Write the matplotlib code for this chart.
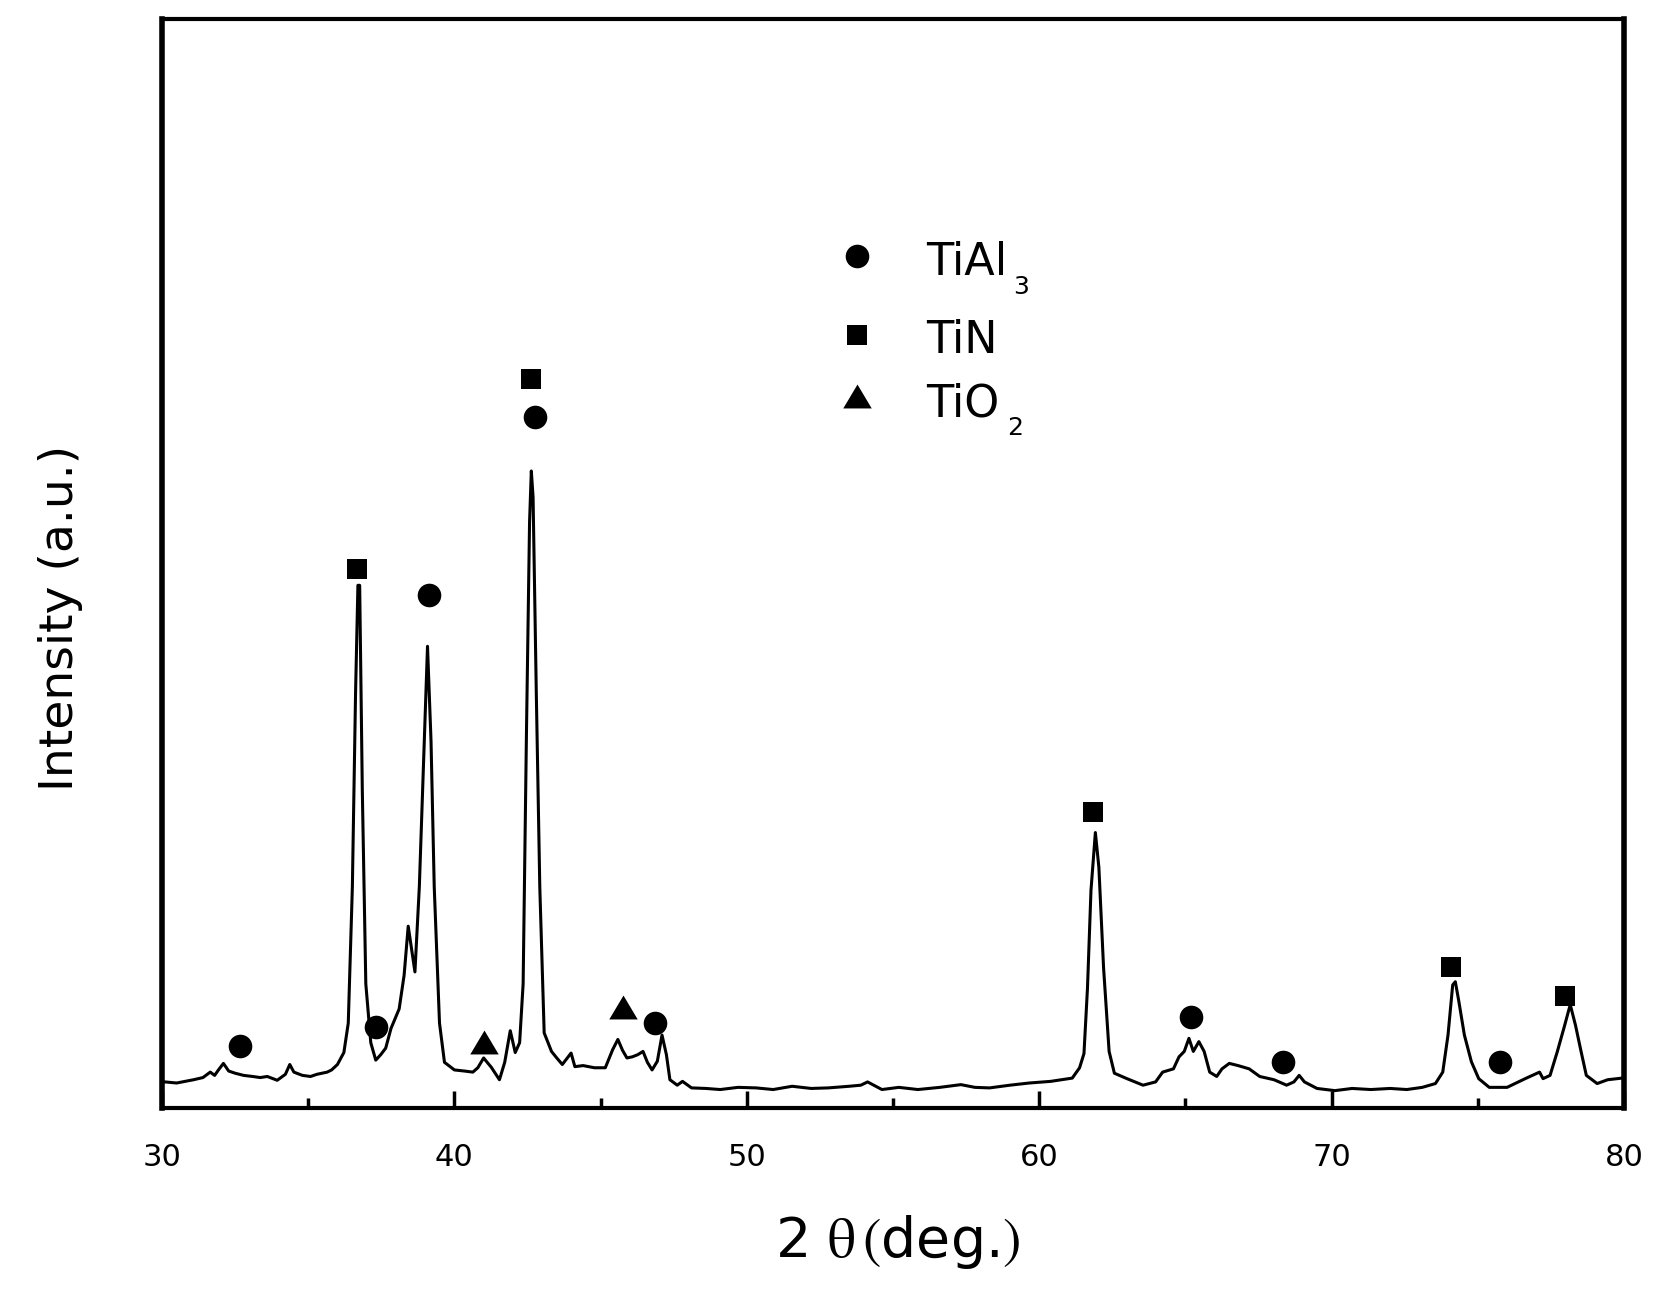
import matplotlib
matplotlib.use("Agg")
import matplotlib.pyplot as plt

plt.rcParams['font.family'] = 'DejaVu Sans'
plt.rcParams['mathtext.fontset'] = 'stix'

# XRD pattern (2-theta in deg, intensity in a.u.)
two_theta = [
    30.0, 30.1, 30.5, 31.08, 31.4, 31.65, 31.8, 31.93, 32.1, 32.28, 32.5, 32.79,
    33.1, 33.36, 33.6, 33.94, 34.22, 34.37, 34.51, 34.8, 35.08, 35.3, 35.65, 35.8,
    36.0, 36.22, 36.37, 36.51, 36.62, 36.7, 36.76, 36.85, 36.97, 37.14, 37.31, 37.48,
    37.65, 37.83, 38.11, 38.28, 38.42, 38.54, 38.65, 38.8, 38.97, 39.08, 39.2, 39.31,
    39.49, 39.66, 40.0, 40.34, 40.63, 40.8, 41.0, 41.12, 41.26, 41.54, 41.72, 41.91,
    42.08, 42.23, 42.35, 42.46, 42.57, 42.63, 42.69, 42.8, 42.92, 43.07, 43.32, 43.5,
    43.69, 43.99, 44.12, 44.4, 44.79, 45.16, 45.41, 45.59, 45.75, 45.9, 46.08, 46.27,
    46.45, 46.6, 46.76, 46.94, 47.1, 47.25, 47.37, 47.62, 47.8, 48.11, 48.6, 49.09,
    49.7, 50.32, 50.9, 51.55, 52.2, 52.78, 53.5, 53.9, 54.13, 54.62, 55.2, 55.85,
    56.6, 57.32, 57.8, 58.3, 59.0, 59.66, 60.39, 61.13, 61.38, 61.53, 61.65, 61.77,
    61.92, 62.04, 62.2, 62.39, 62.57, 63.0, 63.55, 63.98, 64.22, 64.59, 64.78, 64.96,
    65.12, 65.27, 65.46, 65.64, 65.83, 66.07, 66.25, 66.5, 66.8, 67.18, 67.54, 68.03,
    68.46, 68.71, 68.89, 69.07, 69.5, 70.11, 70.7, 71.34, 72.0, 72.57, 73.1, 73.55,
    73.8, 73.98, 74.14, 74.23, 74.35, 74.54, 74.78, 75.03, 75.39, 76.0, 76.62, 77.11,
    77.23, 77.47, 77.72, 77.97, 78.16, 78.34, 78.53, 78.71, 79.08, 79.44, 79.93, 80.0,
]
intensity = [
    2.3, 2.4, 2.3, 2.6, 2.8, 3.3, 3.0, 3.5, 4.1, 3.4, 3.2, 3.0,
    2.9, 2.8, 2.9, 2.55, 3.1, 4.0, 3.3, 3.0, 2.9, 3.1, 3.3, 3.5,
    4.0, 5.1, 7.8, 20.3, 38.2, 48.0, 48.0, 29.2, 11.4, 6.0, 4.4, 4.9,
    5.5, 7.3, 9.1, 12.2, 16.7, 14.5, 12.5, 20.3, 33.7, 42.4, 33.7, 20.3,
    7.8, 4.2, 3.5, 3.4, 3.3, 3.7, 4.6, 4.2, 3.75, 2.6, 4.2, 7.1,
    5.1, 6.0, 11.4, 33.7, 53.8, 58.5, 56.1, 38.2, 20.3, 6.9, 5.2, 4.6,
    4.0, 5.05, 3.8, 3.9, 3.7, 3.7, 5.35, 6.3, 5.3, 4.6, 4.7, 4.9,
    5.2, 4.2, 3.5, 4.3, 6.7, 4.9, 2.6, 2.1, 2.45, 1.85, 1.8, 1.7,
    1.9, 1.85, 1.7, 2.0, 1.8, 1.85, 2.0, 2.1, 2.4, 1.7, 1.9, 1.7,
    1.9, 2.15, 1.9, 1.85, 2.1, 2.3, 2.45, 2.75, 3.7, 5.0, 11.0, 20.0,
    25.3, 22.1, 12.9, 5.2, 3.2, 2.7, 2.1, 2.4, 3.3, 3.6, 4.7, 5.2,
    6.4, 5.2, 6.1, 5.2, 3.3, 2.9, 3.6, 4.1, 3.9, 3.6, 2.9, 2.6,
    2.1, 2.4, 3.0, 2.4, 1.8, 1.6, 1.8, 1.7, 1.8, 1.7, 1.9, 2.25,
    3.3, 6.7, 11.3, 11.6, 9.8, 6.7, 4.25, 2.7, 1.9, 1.9, 2.7, 3.3,
    2.7, 3.0, 5.2, 7.6, 9.5, 7.6, 5.2, 3.0, 2.25, 2.6, 2.75, 2.7,
]

# phase markers above the peaks
tial3_x = [32.67, 37.31, 39.12, 42.74, 46.87, 65.2, 68.33, 75.75]
tial3_y = [5.7, 7.4, 47.1, 63.5, 7.85, 8.4, 4.2, 4.2]
tin_x = [36.68, 42.63, 61.84, 74.09, 77.97]
tin_y = [49.5, 66.9, 27.2, 12.95, 10.3]
tio2_x = [41.02, 45.78]
tio2_y = [6.1, 9.3]

x_ticks = [30, 40, 50, 60, 70, 80]
x_minor = [35, 45, 55, 65, 75]

tri = [(-1.0, -0.84), (1.0, -0.84), (0.0, 0.84)]

fig = plt.figure(figsize=(16.65, 12.94), dpi=100)
ax = fig.add_axes([0.0973, 0.1437, 0.8781, 0.8416])

ax.plot(two_theta, intensity, color='black', lw=2.2)
ax.plot(tial3_x, tial3_y, 'o', color='black', ms=17, mew=0, ls='none')
ax.plot(tin_x, tin_y, 's', color='black', ms=15, mew=0, ls='none')
ax.plot(tio2_x, tio2_y, marker=tri, color='black', ms=20.5, mew=0, ls='none')

# legend drawn by hand, like the original
ax.plot([53.78], [78.2], 'o', color='black', ms=17, mew=0)
ax.plot([53.78], [71.0], 's', color='black', ms=15, mew=0)
ax.plot([53.78], [65.4], marker=tri, color='black', ms=20.5, mew=0)
ax.text(56.12, 76.5, 'TiAl', fontsize=32, va='baseline', ha='left')
ax.text(59.12, 74.75, '3', fontsize=18, va='baseline', ha='left')
ax.text(56.12, 69.3, 'TiN', fontsize=32, va='baseline', ha='left')
ax.text(56.12, 63.5, 'TiO', fontsize=32, va='baseline', ha='left')
ax.text(58.9, 61.8, '2', fontsize=18, va='baseline', ha='left')

ax.set_xlim(30, 80)
ax.set_ylim(0, 100)
ax.set_xticks(x_ticks)
ax.set_xticks(x_minor, minor=True)
ax.set_yticks([])
ax.tick_params(axis='x', which='major', direction='in', length=12, width=2.5,
               labelsize=22, pad=25)
ax.tick_params(axis='x', which='minor', direction='in', length=7, width=2.5)

for side in ['top', 'bottom']:
    ax.spines[side].set_linewidth(3)
for side in ['left', 'right']:
    ax.spines[side].set_linewidth(4)

ax.set_xlabel(r'2 $\mathrm{\theta\,(}$deg.$\mathrm{)}$', fontsize=40)
ax.xaxis.set_label_coords(0.503, -0.137)
ax.xaxis.label.set_va('baseline')
ax.set_ylabel('Intensity (a.u.)', fontsize=34)
ax.yaxis.set_label_coords(-0.054, 0.45)

fig.savefig('out.png', dpi=100, facecolor='white')
